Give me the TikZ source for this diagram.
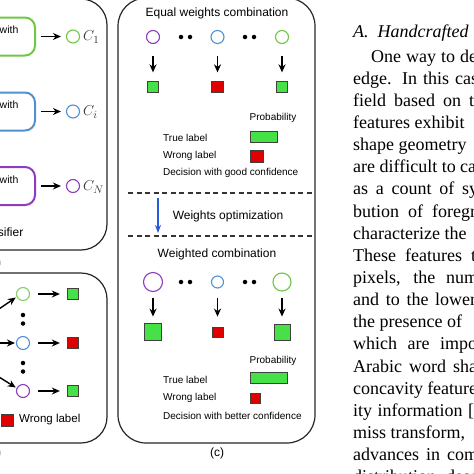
\documentclass[tikz,border=0pt]{standalone}
\usepackage{fontspec}
\setmainfont{Liberation Serif}
\setsansfont{Liberation Sans}
\usetikzlibrary{arrows.meta}
\definecolor{cgreen}{RGB}{110,200,70}
\definecolor{cblue}{RGB}{80,145,210}
\definecolor{cpurple}{RGB}{140,60,190}
\definecolor{sgreen}{RGB}{70,225,70}
\definecolor{sred}{RGB}{225,0,0}
\definecolor{optblue}{RGB}{40,90,220}
\newcommand{\jline}[2]{\makebox[#1pt][s]{#2}}
\begin{document}
\begin{tikzpicture}[x=1pt,y=-1pt,
  panel/.style={draw=black!85, line width=1.2pt, rounded corners=26pt},
  cls/.style={draw, line width=2pt, rounded corners=10pt, minimum width=80pt, minimum height=38pt, inner sep=0},
  cir/.style={circle, line width=1.1pt, inner sep=0, minimum size=13pt},
  sq/.style={draw=black!75, line width=0.8pt, inner sep=0, minimum size=11.5pt},
  bar/.style={draw=black!75, line width=0.8pt, inner sep=0},
  arr/.style={-{Stealth[length=8pt,width=7pt]}, line width=1.4pt, black},
  blk/.style={circle, fill=black, inner sep=0, minimum size=4.5pt},
  lbl/.style={font=\sffamily\fontsize{10}{12}\selectfont, inner sep=0, anchor=west},
  ttl/.style={font=\sffamily\fontsize{12}{14}\selectfont, inner sep=0},
  clab/.style={font=\fontsize{15}{18}\selectfont, inner sep=0, anchor=west, text=black!80},
  dsh/.style={dashed, dash pattern=on 5pt off 3.5pt, line width=1.1pt, black!80},
  body/.style={font=\fontsize{18}{21.8}\selectfont, inner sep=0, anchor=base west}]
\useasboundingbox (0,0) rectangle (474,474);
\clip (0,0) rectangle (474,474);
\fill[white] (0,0) rectangle (474,474);

% ---------- panel (a)
\draw[panel] (-30,-1) rectangle (107,250);
\node[cls, draw=cgreen] (k1) at (-5,36.5) {};
\node[cls, draw=cblue] (k2) at (-5,111.5) {};
\node[cls, draw=cpurple] (k3) at (-5,186) {};
\node[lbl, font=\sffamily\fontsize{10.5}{12}\selectfont] (w1) at (-0.5,30) {with};
\node[lbl, font=\sffamily\fontsize{10.5}{12}\selectfont] (w2) at (-0.5,105) {with};
\node[lbl, font=\sffamily\fontsize{10.5}{12}\selectfont] (w3) at (-0.5,179.5) {with};
\node[cir, draw=cgreen] (a1) at (73,36.5) {};
\node[cir, draw=cblue] (a2) at (73,111.5) {};
\node[cir, draw=cpurple] (a3) at (73,186) {};
\node[clab] (l1) at (83,37) {$C_1$};
\node[clab] (l2) at (83,112) {$C_i$};
\node[clab] (l3) at (83,187) {$C_N$};
\draw[arr, shorten <=5pt, shorten >=5pt] (k1.east) -- (a1.west);
\draw[arr, shorten <=5pt, shorten >=5pt] (k2.east) -- (a2.west);
\draw[arr, shorten <=5pt, shorten >=5pt] (k3.east) -- (a3.west);
\node[ttl, anchor=east] (cl) at (23.5,232) {sifier};
\node[ttl, anchor=east, text=black!50] (pa) at (1.5,263) {)};

% ---------- panel (b)
\draw[panel] (-30,273) rectangle (107,443);
\node[cir, draw=cgreen!85] (g) at (23,294) {};
\node[cir, draw=cblue] (b) at (23,343) {};
\node[cir, draw=cpurple] (p) at (23,391) {};
\node[sq, fill=sgreen] (sg1) at (73,294) {};
\node[sq, fill=sred] (sr1) at (73,343) {};
\node[sq, fill=sgreen] (sg2) at (73,391) {};
\coordinate (i1) at (-1,309);
\coordinate (i2) at (-1,343);
\coordinate (i3) at (-1,377);
\draw[arr, shorten >=1pt] (i1) -- (g.205);
\draw[arr, shorten >=1pt] (i2) -- (b.west);
\draw[arr, shorten >=1pt] (i3) -- (p.155);
\draw[arr, shorten <=8pt, shorten >=7pt] (g) -- (sg1);
\draw[arr, shorten <=8pt, shorten >=7pt] (b) -- (sr1);
\draw[arr, shorten <=8pt, shorten >=7pt] (p) -- (sg2);
\node[blk] (d1) at (23,315) {};
\node[blk] (d2) at (23,323.5) {};
\node[blk] (d3) at (23,363) {};
\node[blk] (d4) at (23,371.5) {};
\node[sq, fill=sred, minimum size=12pt] (lr) at (7,420) {};
\node[lbl, font=\sffamily\fontsize{11.5}{13}\selectfont] (lw) at (19,420) {Wrong label};
\node[ttl, anchor=east, text=black!50] (pb) at (1.5,453) {)};

% ---------- panel (c)
\draw[panel, rounded corners=28pt] (118,-2) rectangle (315,443);
\node[ttl] (t1) at (217,13) {Equal weights combination};
\node[cir, draw=cpurple] (e1) at (153,37) {};
\node[cir, draw=cblue] (e2) at (217.5,37) {};
\node[cir, draw=cgreen] (e3) at (282,37) {};
\node[blk] (x1) at (181,37) {};
\node[blk] (x2) at (190,37) {};
\node[blk] (x3) at (245,37) {};
\node[blk] (x4) at (254,37) {};
\node[sq, fill=sgreen] (q1) at (153,87) {};
\node[sq, fill=sred] (q2) at (217.5,87) {};
\node[sq, fill=sgreen] (q3) at (282,87) {};
\draw[arr, shorten <=11.5pt, shorten >=8.5pt] (e1) -- (q1);
\draw[arr, shorten <=11.5pt, shorten >=8.5pt] (e2) -- (q2);
\draw[arr, shorten <=11.5pt, shorten >=8.5pt] (e3) -- (q3);
\node[lbl, anchor=center] (pr1) at (273,118) {Probability};
\node[lbl] (tl1) at (163,138) {True label};
\node[bar, fill=sgreen, minimum width=27pt, minimum height=11.5pt] (gb1) at (263.5,137) {};
\node[lbl] (wl1) at (163,156) {Wrong label};
\node[bar, fill=sred, minimum width=13pt, minimum height=12.5pt] (rb1) at (257,156.5) {};
\node[lbl] (dc1) at (163,173) {Decision with good confidence};
\coordinate (da1) at (128,193);
\coordinate (da2) at (313,193);
\draw[dsh] (da1) -- (da2);
\coordinate (ba) at (158,198);
\coordinate (bb) at (158,233);
\draw[-{Stealth[length=8pt,width=6pt]}, line width=1.3pt, optblue] (ba) -- (bb);
\node[ttl] (wo) at (228,216) {Weights optimization};
\coordinate (db1) at (128,236);
\coordinate (db2) at (313,236);
\draw[dsh] (db1) -- (db2);
\node[ttl] (t2) at (217,254) {Weighted combination};
\node[cir, draw=cpurple, minimum size=19pt] (f1) at (153,282) {};
\node[cir, draw=cblue, minimum size=12pt] (f2) at (217.5,282) {};
\node[cir, draw=cgreen, minimum size=18pt] (f3) at (282,282) {};
\node[blk] (y1) at (181,282) {};
\node[blk] (y2) at (190,282) {};
\node[blk] (y3) at (245,282) {};
\node[blk] (y4) at (254,282) {};
\node[sq, fill=sgreen, minimum size=17pt] (r1) at (153,332) {};
\node[bar, fill=sred, minimum width=11pt, minimum height=10pt] (r2) at (217.5,332) {};
\node[sq, fill=sgreen, minimum size=16pt] (r3) at (282,332) {};
\draw[arr, shorten <=5.5pt, shorten >=6.5pt] (f1) -- (r1);
\draw[arr, shorten <=9pt, shorten >=10pt] (f2) -- (r2);
\draw[arr, shorten <=6pt, shorten >=7pt] (f3) -- (r3);
\node[lbl, anchor=center] (pr2) at (273,361) {Probability};
\node[lbl] (tl2) at (163,380) {True label};
\node[bar, fill=sgreen, minimum width=37pt, minimum height=10.5pt] (gb2) at (268.5,378) {};
\node[lbl] (wl2) at (163,398) {Wrong label};
\node[bar, fill=sred, minimum width=10pt, minimum height=10pt] (rb2) at (255,398) {};
\node[lbl] (dc2) at (163,416) {Decision with better confidence};
\node[ttl] (pc) at (217,453) {(c)};

% ---------- body text
\node[body, font=\itshape\fontsize{18}{21.8}\selectfont] (h0) at (353,37) {A.\ \ Handcrafted};
\node[body] (b2) at (371,62) {\jline{106}{One way to de}};
\node[body] (b3) at (353,84.15) {\jline{125}{edge. In this cas}};
\node[body] (b4) at (353,106.3) {\jline{121}{field based on t}};
\node[body] (b5) at (353,128.45) {features exhibit};
\node[body] (b6) at (353,150.6) {shape geometry};
\node[body] (b7) at (353,172.75) {\jline{123}{are difficult to ca}};
\node[body] (b8) at (353,194.9) {\jline{125}{as a count of sy}};
\node[body] (b9) at (353,217.05) {\jline{123}{bution of foregr}};
\node[body] (b10) at (353,239.2) {characterize the};
\node[body] (b11) at (353,261.35) {\jline{123}{These features t}};
\node[body] (b12) at (353,283.5) {\jline{125}{pixels, the num}};
\node[body] (b13) at (353,305.65) {\jline{123}{and to the lower}};
\node[body] (b14) at (353,327.8) {the presence of};
\node[body] (b15) at (353,349.95) {\jline{124}{which are impo}};
\node[body] (b16) at (353,372.1) {\jline{124}{Arabic word sha}};
\node[body] (b17) at (353,394.25) {\jline{124}{concavity feature}};
\node[body] (b18) at (353,416.4) {\jline{121}{ity information [}};
\node[body] (b19) at (353,438.55) {miss transform,};
\node[body] (b20) at (353,460.7) {\jline{125}{advances in com}};
\node[body] (b21) at (353,482.85) {\jline{125}{distribution desc}};
\end{tikzpicture}
\end{document}
